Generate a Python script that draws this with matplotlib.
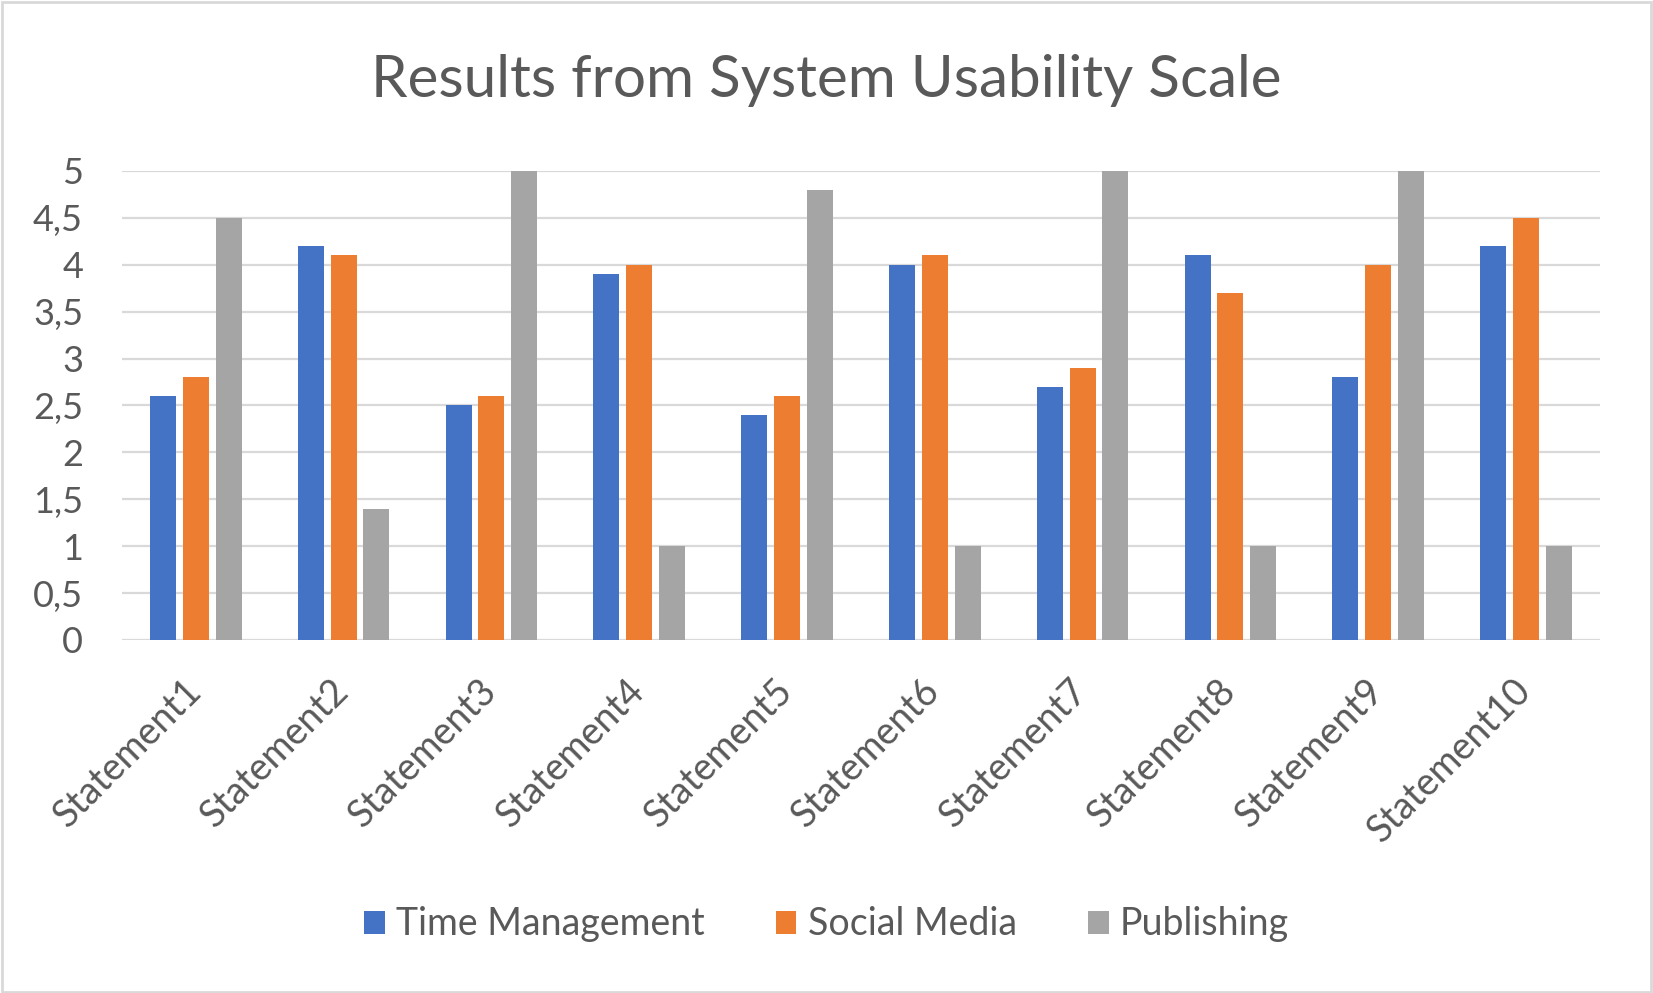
import matplotlib.pyplot as plt
import numpy as np
from matplotlib.ticker import FuncFormatter
from matplotlib.patches import Rectangle
from matplotlib.transforms import ScaledTranslation

# data
statements = ["Statement1", "Statement2", "Statement3", "Statement4", "Statement5",
              "Statement6", "Statement7", "Statement8", "Statement9", "Statement10"]
time_management = [2.6, 4.2, 2.5, 3.9, 2.4, 4.0, 2.7, 4.1, 2.8, 4.2]
social_media = [2.8, 4.1, 2.6, 4.0, 2.6, 4.1, 2.9, 3.7, 4.0, 4.5]
publishing = [4.5, 1.4, 5.0, 1.0, 4.8, 1.0, 5.0, 1.0, 5.0, 1.0]
series_names = ["Time Management", "Social Media", "Publishing"]
colors = ["#4472C4", "#ED7D31", "#A5A5A5"]

plt.rcParams['font.family'] = ['Lato', 'DejaVu Sans']
text_col = "#595959"

fig = plt.figure(figsize=(16.53, 9.93), dpi=100)
ax = fig.add_axes([0.0738, 0.3555, 0.894, 0.4723])

x = np.arange(len(statements))
w = 0.176
step = 0.222
for i, (vals, name, c) in enumerate(zip([time_management, social_media, publishing], series_names, colors)):
    ax.bar(x + (i - 1) * step, vals, width=w, color=c, label=name, zorder=3)

ax.set_xlim(-0.5, len(statements) - 0.5)
ax.set_ylim(0, 5)
ax.set_yticks(np.arange(0, 5.01, 0.5))
ax.yaxis.set_major_formatter(FuncFormatter(lambda v, p: ("%g" % v).replace(".", ",")))
ax.grid(axis='y', color="#D9D9D9", lw=1.6, zorder=0)
for s in ax.spines.values():
    s.set_visible(False)
ax.tick_params(axis='both', length=0, colors=text_col)
ax.tick_params(axis='y', pad=28, labelsize=26)
ax.set_xticks(x)
ax.set_xticklabels(statements, rotation=45, ha='right', rotation_mode='anchor')
ax.tick_params(axis='x', pad=16, labelsize=27)
# nudge rotated labels left/down like the original
shift = ScaledTranslation(-0.13, -0.10, fig.dpi_scale_trans)
for lab in ax.get_xticklabels():
    lab.set_transform(lab.get_transform() + shift)

fig.suptitle("Results from System Usability Scale", y=0.946, fontsize=42, color=text_col)

leg = fig.legend(loc='center', bbox_to_anchor=(0.5, 0.069), ncol=3, frameon=False,
                 fontsize=27, handlelength=0.55, handleheight=0.55, handletextpad=0.3,
                 columnspacing=1.9)
for t in leg.get_texts():
    t.set_color(text_col)

fig.patches.append(Rectangle((0.001, 0.001), 0.998, 0.997, transform=fig.transFigure,
                             fill=False, edgecolor="#D9D9D9", lw=2))

fig.savefig("out.png", dpi=100)
